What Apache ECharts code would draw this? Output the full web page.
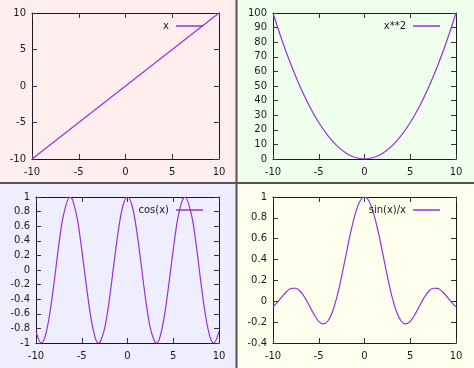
<!DOCTYPE html>
<html>
<head>
<meta charset="utf-8">
<script src="https://cdn.jsdelivr.net/npm/echarts@6/dist/echarts.min.js"></script>
<style>
  html, body { margin: 0; padding: 0; background: #fff; }
  #main { width: 474px; height: 368px; }
</style>
</head>
<body>
<div id="main"></div>
<script>
// values
var xLine = [-10, 10];
var yLine = [-10, 10];

var xSquare = [-10, -9, -8, -7, -6, -5, -4, -3, -2, -1, 0, 1, 2, 3, 4, 5, 6, 7, 8, 9, 10];
var ySquare = [100, 81, 64, 49, 36, 25, 16, 9, 4, 1, 0, 1, 4, 9, 16, 25, 36, 49, 64, 81, 100];

var xCos = [-10, -9.42, -9, -8.5, -8, -7.5, -7, -6.28, -6, -5.5, -5, -4.5, -4, -3.5, -3.14, -3, -2.5, -2, -1.5, -1, -0.5,
  0, 0.5, 1, 1.5, 2, 2.5, 3, 3.14, 3.5, 4, 4.5, 5, 5.5, 6, 6.28, 7, 7.5, 8, 8.5, 9, 9.42, 10];
var yCos = [-0.84, -1, -0.91, -0.6, -0.15, 0.35, 0.75, 1, 0.96, 0.71, 0.28, -0.21, -0.65, -0.94, -1, -0.99, -0.8, -0.42, 0.07, 0.54, 0.88,
  1, 0.88, 0.54, 0.07, -0.42, -0.8, -0.99, -1, -0.94, -0.65, -0.21, 0.28, 0.71, 0.96, 1, 0.75, 0.35, -0.15, -0.6, -0.91, -1, -0.84];

var xSinc = [-10, -9.5, -9, -8.5, -8, -7.5, -7, -6.5, -6, -5.5, -5, -4.5, -4, -3.5, -3, -2.5, -2, -1.5, -1, -0.5,
  0, 0.5, 1, 1.5, 2, 2.5, 3, 3.5, 4, 4.5, 5, 5.5, 6, 6.5, 7, 7.5, 8, 8.5, 9, 9.5, 10];
var ySinc = [-0.054, -0.008, 0.046, 0.094, 0.124, 0.125, 0.094, 0.033, -0.047, -0.128, -0.192, -0.217, -0.189, -0.1, 0.047, 0.239, 0.455, 0.665, 0.841, 0.959,
  1, 0.959, 0.841, 0.665, 0.455, 0.239, 0.047, -0.1, -0.189, -0.217, -0.192, -0.128, -0.047, 0.033, 0.094, 0.125, 0.124, 0.094, 0.046, -0.008, -0.054];

var names = ['x', 'x**2', 'cos(x)', 'sin(x)/x'];
var yRanges = [[-10, 10, 5], [0, 100, 10], [-1, 1, 0.2], [-0.4, 1, 0.2]];
var xTicks = [-10, 10, 5];

function pairs(xs, ys) {
  return xs.map(function (x, i) { return [x, ys[i]]; });
}
var seriesData = [pairs(xLine, yLine), pairs(xSquare, ySquare), pairs(xCos, yCos), pairs(xSinc, ySinc)];

var grids = [
  { left: 32, top: 13, width: 187, height: 146 },
  { left: 273, top: 13, width: 183, height: 146 },
  { left: 36, top: 197, width: 183, height: 146 },
  { left: 273, top: 197, width: 183, height: 146 }
];
var panelBg = ['#ffeeee', '#eeffee', '#eeeeff', '#ffffee'];
var legendRight = [266, 29, 266, 29];
var legendTop = [16, 16, 200, 200];

var font = 'DejaVu Sans';
var ink = '#1a1a1a';
var purple = '#9a30dc';

var xAxes = [], yAxes = [], series = [], legends = [];
grids.forEach(function (g, i) {
  var yr = yRanges[i];
  // bottom/left axes carry labels, top/right ones only mirror the ticks
  [false, true].forEach(function (mirror) {
    xAxes.push({
      type: 'value', gridIndex: i, min: xTicks[0], max: xTicks[1], interval: xTicks[2],
      position: mirror ? 'top' : 'bottom',
      axisLine: { show: true, onZero: false, lineStyle: { color: ink, width: 1 } },
      axisTick: { show: true, inside: true, length: 5, lineStyle: { color: '#333', width: 1 } },
      axisLabel: { show: !mirror, margin: 8, color: ink, fontFamily: font, fontSize: 10 },
      splitLine: { show: false }
    });
    yAxes.push({
      type: 'value', gridIndex: i, min: yr[0], max: yr[1], interval: yr[2],
      position: mirror ? 'right' : 'left',
      axisLine: { show: true, onZero: false, lineStyle: { color: ink, width: 1 } },
      axisTick: { show: true, inside: true, length: 5, lineStyle: { color: '#333', width: 1 } },
      axisLabel: { show: !mirror, margin: 6, color: ink, fontFamily: font, fontSize: 10 },
      splitLine: { show: false }
    });
  });
  series.push({
    name: names[i], type: 'line',
    xAxisIndex: i * 2, yAxisIndex: i * 2,
    data: seriesData[i], smooth: i > 0 ? 0.35 : false, showSymbol: false,
    lineStyle: { color: purple, width: 1.2 }, itemStyle: { color: purple },
    z: 1, animation: false
  });
  legends.push({
    data: [names[i]], right: legendRight[i], top: legendTop[i],
    align: 'right', icon: 'rect', itemWidth: 27, itemHeight: 1.5, itemGap: 0,
    textStyle: { color: ink, fontFamily: font, fontSize: 10, padding: [0, 2, 0, 0] },
    selectedMode: false
  });
});

var chart = echarts.init(document.getElementById('main'));
chart.setOption({
  animation: false,
  graphic: [
    { type: 'rect', z: -10, shape: { x: 0, y: 0, width: 237, height: 183 }, style: { fill: panelBg[0] } },
    { type: 'rect', z: -10, shape: { x: 237, y: 0, width: 237, height: 183 }, style: { fill: panelBg[1] } },
    { type: 'rect', z: -10, shape: { x: 0, y: 183, width: 237, height: 185 }, style: { fill: panelBg[2] } },
    { type: 'rect', z: -10, shape: { x: 237, y: 183, width: 237, height: 185 }, style: { fill: panelBg[3] } },
    { type: 'line', z: -5, shape: { x1: 0, y1: 183, x2: 474, y2: 183 }, style: { stroke: '#555', lineWidth: 2 } },
    { type: 'line', z: -5, shape: { x1: 236.5, y1: 0, x2: 236.5, y2: 368 }, style: { stroke: '#555', lineWidth: 2 } }
  ],
  grid: grids,
  xAxis: xAxes,
  yAxis: yAxes,
  legend: legends,
  series: series
});
</script>
</body>
</html>
